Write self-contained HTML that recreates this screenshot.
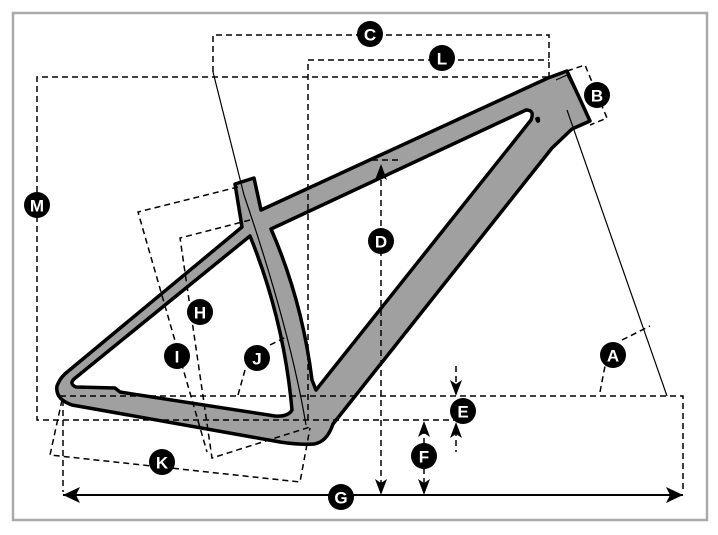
<!DOCTYPE html>
<html><head><meta charset="utf-8"><style>
html,body{margin:0;padding:0;background:#fff}
svg{display:block}
text{font-family:"Liberation Sans",sans-serif;font-weight:bold;font-size:17px;fill:#fff;text-anchor:middle;dominant-baseline:central}
</style></head><body>
<svg width="718" height="535" viewBox="0 0 718 535" xmlns="http://www.w3.org/2000/svg">
<rect x="13" y="13" width="694" height="507" fill="#fff" stroke="#aaa" stroke-width="2.5"/>
<!-- frame -->
<path d="M235,184 L254,178 L261,210 L548,78 L567,71 L590,121 L572,129 L552,148 L333,424 Q327,442 314,444 Q300,445 280,442 L72,405 Q55,399 57,386 Q60,378 66,373 L242,227 Z" fill="#a0a0a0" stroke="#000" stroke-width="3.5" stroke-linejoin="round"/>
<path d="M526,110 Q535,110 531,120 L316,390 L312,380 Q302,300 271,229 Z" fill="#fff" stroke="#000" stroke-width="3.5" stroke-linejoin="round"/>
<path d="M250,236 Q284,320 292,410 Q288,417 275,416 L120,392 L115,388 L76,387 Q69,384 74,379 Z" fill="#fff" stroke="#000" stroke-width="3.5" stroke-linejoin="round"/>
<path d="M535,118 q6,-4 5,4 q-4,3 -5,-4z" fill="#000"/>
<!-- thin solid lines -->
<g stroke="#000" stroke-width="1.2" fill="none">
<path d="M213,72 L244,195 Q290,330 306,425"/>
<path d="M556,80 L567,75 L590,121"/>
<path d="M567,110 L667,396"/>
</g>
<!-- dashed -->
<g stroke="#000" stroke-width="1.5" fill="none" stroke-dasharray="6,4">
<path d="M213,72 L213,35 L549,35 L549,76"/>
<path d="M308,420 L308,60 L549,60"/>
<path d="M548,77 L37,77 L37,420 L460,420"/>
<path d="M567,71 L585,65 L607,118 L590,125"/>
<path d="M372,160 L400,160"/>
<path d="M381,170 L381,490"/>
<path d="M60,396 L683,396 L683,492"/>
<path d="M63,400 L63,492"/>
<path d="M456,366 L456,390"/>
<path d="M456,430 L456,452"/>
<path d="M424,428 L424,488"/>
<path d="M600,392 L605,366"/>
<path d="M622,340 L650,326"/>
<path d="M238,395 L245,370"/>
<path d="M270,345 L286,337"/>
<path d="M238,187 L138,212 L207,452"/>
<path d="M250,220 L180,238 L212,458 L310,427"/>
<path d="M62,400 L50,455 L300,482 L310,428"/>
</g>
<!-- G line + arrows -->
<path d="M63,495 L683,495" stroke="#000" stroke-width="2"/>
<g fill="#000">
<path d="M63,495 L80,487 L76,495 L80,503Z"/>
<path d="M683,495 L666,487 L670,495 L666,503Z"/>
<path d="M381,164 L375,180 L381,176 L387,180Z"/>
<path d="M381,495 L375,479 L381,483 L387,479Z"/>
<path d="M424,495 L418,479 L424,483 L430,479Z"/>
<path d="M424,421 L418,437 L424,433 L430,437Z"/>
<path d="M456,396 L450,380 L456,384 L462,380Z"/>
<path d="M456,422 L450,438 L456,434 L462,438Z"/>
</g>
<!-- labels -->
<g fill="#000">
<circle cx="370" cy="34" r="13"/><circle cx="442" cy="58" r="13"/><circle cx="597" cy="95" r="13"/>
<circle cx="37" cy="205" r="13"/><circle cx="381" cy="241" r="13"/><circle cx="200" cy="312" r="13"/>
<circle cx="177" cy="356" r="13"/><circle cx="257" cy="358" r="13"/><circle cx="613" cy="355" r="13"/>
<circle cx="463" cy="411" r="13"/><circle cx="424" cy="456" r="13"/><circle cx="162" cy="462" r="13"/>
<circle cx="341" cy="497" r="13"/>
</g>
<text x="370" y="35">C</text><text x="442" y="59">L</text><text x="597" y="96">B</text>
<text x="37" y="206">M</text><text x="381" y="242">D</text><text x="200" y="313">H</text>
<text x="177" y="357">I</text><text x="257" y="359">J</text><text x="613" y="356">A</text>
<text x="463" y="412">E</text><text x="424" y="457">F</text><text x="162" y="463">K</text>
<text x="341" y="498">G</text>
</svg>
</body></html>
